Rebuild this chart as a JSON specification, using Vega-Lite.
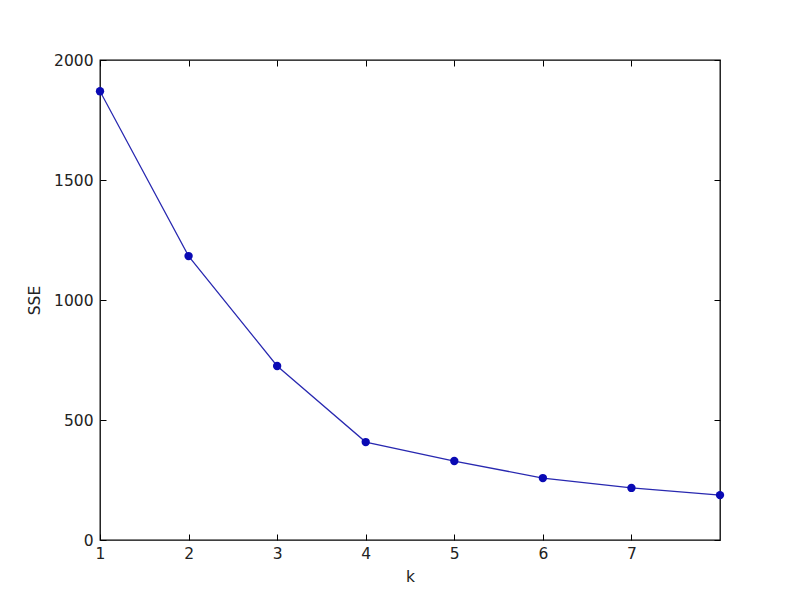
{
  "$schema": "https://vega.github.io/schema/vega-lite/v6.json",
  "width": 620,
  "height": 480,
  "autosize": {"type": "none"},
  "padding": {"left": 100, "top": 60, "right": 80, "bottom": 60},
  "background": "white",
  "config": {
    "view": {"stroke": "#000", "strokeWidth": 1.3},
    "axis": {"labelFont": "DejaVu Sans", "titleFont": "DejaVu Sans", "labelFontSize": 15.5, "titleFontSize": 15.5, "titleFontWeight": "normal", "labelColor": "#222", "titleColor": "#222", "grid": false, "domain": false, "tickColor": "#000", "tickSize": 6, "offset": -6, "labelFlush": false, "format": "d"}
  },
  "data": {"values": [
    {"k": 1, "SSE": 1870},
    {"k": 2, "SSE": 1183},
    {"k": 3, "SSE": 725},
    {"k": 4, "SSE": 408},
    {"k": 5, "SSE": 329},
    {"k": 6, "SSE": 258},
    {"k": 7, "SSE": 217},
    {"k": 8, "SSE": 187}
  ]},
  "layer": [
    {
      "mark": {"type": "line", "color": "#2828b0", "strokeWidth": 1.25},
      "encoding": {
        "x": {"field": "k", "type": "quantitative", "scale": {"domain": [1, 8]}, "axis": {"values": [1, 2, 3, 4, 5, 6, 7], "title": "k", "labelPadding": 6, "titleY": 42, "titleBaseline": "middle"}},
        "y": {"field": "SSE", "type": "quantitative", "scale": {"domain": [0, 2000]}, "axis": {"values": [0, 500, 1000, 1500, 2000], "title": "SSE", "labelPadding": 7, "titleX": -72, "titleY": 240, "titleBaseline": "middle"}}
      }
    },
    {
      "mark": {"type": "point", "filled": true, "color": "#0a0ab4", "size": 70, "opacity": 1, "clip": false},
      "encoding": {
        "x": {"field": "k", "type": "quantitative", "axis": {"orient": "top", "values": [1, 2, 3, 4, 5, 6, 7], "labels": false, "title": null}},
        "y": {"field": "SSE", "type": "quantitative", "axis": {"orient": "right", "values": [0, 500, 1000, 1500, 2000], "labels": false, "title": null}}
      }
    }
  ],
  "resolve": {"axis": {"x": "independent", "y": "independent"}}
}
